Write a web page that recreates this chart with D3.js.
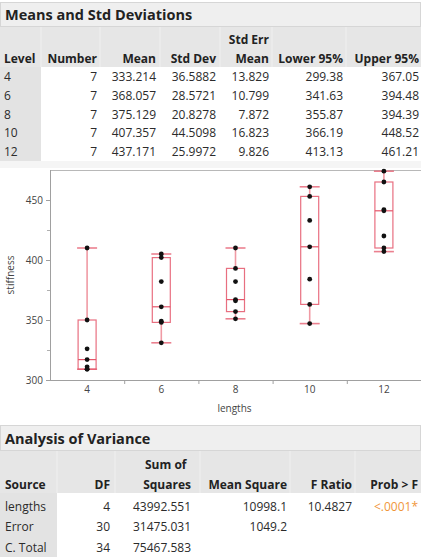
<!DOCTYPE html>
<html>
<head>
<meta charset="utf-8">
<script src="https://cdn.jsdelivr.net/npm/d3@7"></script>
<style>
  html, body { margin: 0; padding: 0; background: #ffffff; }
  svg { display: block; font-family: 'Open Sans', 'Noto Sans', sans-serif; }
</style>
</head>
<body>
<svg id="chart" width="421" height="559"></svg>
<script>
// Means table
const levels = ['4', '6', '8', '10', '12'];
const numbers = [7, 7, 7, 7, 7];
const means = ['333.214', '368.057', '375.129', '407.357', '437.171'];
const stdDevs = ['36.5882', '28.5721', '20.8278', '44.5098', '25.9972'];
const stdErrs = ['13.829', '10.799', '7.872', '16.823', '9.826'];
const lower95 = ['299.38', '341.63', '355.87', '366.19', '413.13'];
const upper95 = ['367.05', '394.48', '394.39', '448.52', '461.21'];

// stiffness values, one array per length
const stiff4 = [410, 350, 326, 317, 311, 309, 309];
const stiff6 = [405, 402, 382, 361, 349, 348, 331];
const stiff8 = [410, 393, 382, 367, 366, 357, 351];
const stiff10 = [461, 453, 433, 411, 384, 363, 347];
const stiff12 = [474, 465, 442, 441, 420, 410, 407];
const yTicks = [300, 350, 400, 450];
const yMinorTicks = [325, 375, 425];

// Analysis of variance table
const sources = ['lengths', 'Error', 'C. Total'];
const dfs = ['4', '30', '34'];
const sumSquares = ['43992.551', '31475.031', '75467.583'];
const meanSquares = ['10998.1', '1049.2', ''];
const fRatios = ['10.4827', '', ''];
const probs = ['<.0001*', '', ''];

const svg = d3.select('#chart');
const textColor = '#2b2b2b';
const boxColor = '#e4566a';

function titleBar(y, h, label) {
  svg.append('rect')
    .attr('x', 0.5).attr('y', y + 0.5)
    .attr('width', 420).attr('height', h)
    .attr('fill', '#efefef')
    .attr('stroke', '#d6d6d6');
  svg.append('text')
    .attr('x', 5).attr('y', y + h - 6)
    .attr('font-size', 14.5)
    .attr('font-weight', 700)
    .attr('fill', '#222')
    .text(label);
}

function headerBlock(y, h, seps) {
  svg.append('rect')
    .attr('x', 0).attr('y', y)
    .attr('width', 421).attr('height', h)
    .attr('fill', '#e6e6e6');
  svg.selectAll(null)
    .data(seps)
    .enter()
    .append('line')
    .attr('x1', (d) => d).attr('x2', (d) => d)
    .attr('y1', y).attr('y2', y + h)
    .attr('stroke', '#ededed')
    .attr('stroke-width', 1.5);
}

function headerText(x, y, label, anchor) {
  svg.append('text')
    .attr('x', x).attr('y', y)
    .attr('text-anchor', anchor || 'end')
    .attr('font-size', 12)
    .attr('font-weight', 700)
    .attr('fill', '#222')
    .text(label);
}

function column(values, x, rowY, anchor, color) {
  svg.selectAll(null)
    .data(values)
    .enter()
    .append('text')
    .attr('x', x)
    .attr('y', (d, i) => rowY(i))
    .attr('text-anchor', anchor || 'end')
    .attr('font-size', 12)
    .attr('fill', color || textColor)
    .text((d) => d);
}

function drawMeansTable() {
  titleBar(2, 24, 'Means and Std Deviations');
  headerBlock(27, 40, [41, 100, 160, 220, 272, 346]);
  svg.append('rect')
    .attr('x', 0).attr('y', 67)
    .attr('width', 41).attr('height', 94)
    .attr('fill', '#e3e3e3');

  headerText(4, 62.5, 'Level', 'start');
  headerText(97, 62.5, 'Number');
  headerText(156, 62.5, 'Mean');
  headerText(216, 62.5, 'Std Dev');
  headerText(269, 44, 'Std Err');
  headerText(269, 62.5, 'Mean');
  headerText(343, 62.5, 'Lower 95%');
  headerText(419, 62.5, 'Upper 95%');

  var rowY = (i) => 81.3 + i * 18.7;
  column(levels, 4, rowY, 'start');
  column(numbers, 97, rowY);
  column(means, 156, rowY);
  column(stdDevs, 216, rowY);
  column(stdErrs, 269, rowY);
  column(lower95, 343, rowY);
  column(upper95, 419, rowY);
}

// JMP style quantile: position p * (n + 1)
function quantile(sorted, p) {
  var n = sorted.length;
  var pos = p * (n + 1);
  var lo = Math.floor(pos);
  if (lo < 1) return sorted[0];
  if (lo >= n) return sorted[n - 1];
  return sorted[lo - 1] + (pos - lo) * (sorted[lo] - sorted[lo - 1]);
}

function drawBoxPlot() {
  var groups = [stiff4, stiff6, stiff8, stiff10, stiff12];
  var left = 50, top = 170, right = 421, bottom = 380;

  svg.append('rect')
    .attr('x', 0).attr('y', 161)
    .attr('width', 421).attr('height', 7)
    .attr('fill', '#f5f5f5');

  var x = d3.scaleBand().domain(levels).range([left, right]);
  var y = d3.scaleLinear().domain([300, 475]).range([bottom, top]);

  // frame
  svg.append('line')
    .attr('x1', left).attr('x2', right)
    .attr('y1', top + 0.5).attr('y2', top + 0.5)
    .attr('stroke', '#b8b8b8');

  var yAxis = svg.append('g')
    .attr('transform', 'translate(' + left + ',0)')
    .call(d3.axisLeft(y).tickValues(yTicks).tickSize(4).tickPadding(3));
  yAxis.select('.domain').attr('stroke', '#a0a0a0').attr('d', 'M0.5,' + top + 'V' + bottom);
  yAxis.selectAll('.tick line').attr('stroke', '#a0a0a0');
  yAxis.selectAll('.tick text')
    .attr('font-size', 10)
    .attr('font-family', "'Open Sans', sans-serif")
    .attr('fill', '#444');

  svg.append('g')
    .selectAll('line')
    .data(yMinorTicks)
    .join('line')
    .attr('x1', left - 3).attr('x2', left)
    .attr('y1', (d) => y(d) + 0.5).attr('y2', (d) => y(d) + 0.5)
    .attr('stroke', '#b0b0b0');

  var xAxis = svg.append('g')
    .attr('transform', 'translate(0,' + bottom + ')')
    .call(d3.axisBottom(x).tickSize(0).tickPadding(6));
  xAxis.select('.domain').attr('stroke', '#a0a0a0').attr('d', 'M' + left + ',0.5H' + right);
  xAxis.selectAll('.tick text')
    .attr('font-size', 10)
    .attr('font-family', "'Open Sans', sans-serif")
    .attr('fill', '#444');

  // separators between the length groups
  svg.append('g')
    .selectAll('line')
    .data(levels.slice(1))
    .join('line')
    .attr('x1', (d) => x(d) + 0.5).attr('x2', (d) => x(d) + 0.5)
    .attr('y1', bottom).attr('y2', bottom + 4)
    .attr('stroke', '#a0a0a0');

  svg.append('text')
    .attr('transform', 'translate(14,' + (top + bottom) / 2 + ') rotate(-90)')
    .attr('text-anchor', 'middle')
    .attr('font-size', 10)
    .attr('fill', '#444')
    .text('stiffness');

  svg.append('text')
    .attr('x', (left + right) / 2 - 1)
    .attr('y', 412)
    .attr('text-anchor', 'middle')
    .attr('font-size', 10)
    .attr('fill', '#444')
    .text('lengths');

  var boxW = 18, capW = 20;
  groups.forEach(function (vals, i) {
    var cx = x(levels[i]) + x.bandwidth() / 2;
    var sorted = vals.slice().sort(d3.ascending);
    var q1 = quantile(sorted, 0.25);
    var med = quantile(sorted, 0.5);
    var q3 = quantile(sorted, 0.75);
    var lo = sorted[0], hi = sorted[sorted.length - 1];
    var g = svg.append('g');

    // whiskers
    g.append('line')
      .attr('x1', cx).attr('x2', cx)
      .attr('y1', y(q3)).attr('y2', y(hi))
      .attr('stroke', '#f09aa4').attr('stroke-width', 1.6);
    g.append('line')
      .attr('x1', cx).attr('x2', cx)
      .attr('y1', y(q1)).attr('y2', y(lo))
      .attr('stroke', '#f09aa4').attr('stroke-width', 1.6);
    g.selectAll('.cap')
      .data([lo, hi])
      .enter()
      .append('line')
      .attr('class', 'cap')
      .attr('x1', cx - capW / 2).attr('x2', cx + capW / 2)
      .attr('y1', (d) => y(d)).attr('y2', (d) => y(d))
      .attr('stroke', boxColor).attr('stroke-opacity', 0.75).attr('stroke-width', 1.6);

    g.append('rect')
      .attr('x', cx - boxW / 2)
      .attr('y', y(q3))
      .attr('width', boxW)
      .attr('height', y(q1) - y(q3))
      .attr('fill', 'none')
      .attr('stroke', boxColor)
      .attr('stroke-opacity', 0.85)
      .attr('stroke-width', 1.2);
    g.append('line')
      .attr('x1', cx - boxW / 2).attr('x2', cx + boxW / 2)
      .attr('y1', y(med)).attr('y2', y(med))
      .attr('stroke', boxColor).attr('stroke-width', 1.2);

    g.selectAll('circle')
      .data(vals)
      .enter()
      .append('circle')
      .attr('cx', cx)
      .attr('cy', (d) => y(d))
      .attr('r', 2.4)
      .attr('fill', '#111');
  });
}

function drawAnovaTable() {
  titleBar(425, 25, 'Analysis of Variance');
  headerBlock(451, 42, [57, 115, 200, 290, 355]);
  svg.append('rect')
    .attr('x', 0).attr('y', 493)
    .attr('width', 57).attr('height', 64)
    .attr('fill', '#e3e3e3');

  headerText(145, 469, 'Sum of', 'start');
  headerText(5, 489, 'Source', 'start');
  headerText(110, 489, 'DF');
  headerText(191, 489, 'Squares');
  headerText(287, 489, 'Mean Square');
  headerText(352, 489, 'F Ratio');
  headerText(418, 489, 'Prob > F');

  var rowY = (i) => 510.5 + i * 20.6;
  column(sources, 5, rowY, 'start');
  column(dfs, 110, rowY);
  column(sumSquares, 191, rowY);
  column(meanSquares, 287, rowY);
  column(fRatios, 352, rowY);
  column(probs, 418, rowY, 'end', '#f0963a');
}

drawMeansTable();
drawBoxPlot();
drawAnovaTable();
</script>
</body>
</html>
